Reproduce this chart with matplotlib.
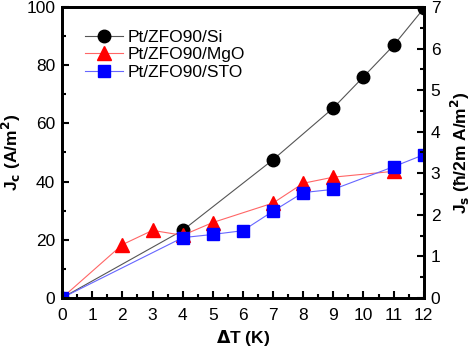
import matplotlib.pyplot as plt
import numpy as np
from matplotlib.ticker import MultipleLocator

plt.rcParams['font.family'] = ['Liberation Sans', 'DejaVu Sans']

# data
x_si = [0, 4, 7, 9, 10, 11, 12]
y_si = [0, 23.2, 47.5, 65.3, 76.0, 86.8, 99.5]

x_mgo = [0, 2, 3, 4, 5, 7, 8, 9, 11]
y_mgo = [0, 18.3, 23.2, 21.5, 25.9, 32.6, 39.4, 41.5, 43.5]

x_sto = [0, 4, 5, 6, 7, 8, 9, 11, 12]
y_sto = [0, 20.7, 21.8, 23.1, 29.8, 36.2, 37.3, 45.1, 49.2]

fig = plt.figure(figsize=(4.74, 3.5), dpi=100)
ax = fig.add_axes([0.131, 0.149, 0.763, 0.831])

ax.plot(x_si, y_si, color='#555555', lw=0.8, marker='o', ms=9,
        mfc='black', mec='black', label='Pt/ZFO90/Si')
ax.plot(x_mgo, y_mgo, color='#ff6666', lw=0.8, marker='^', ms=10,
        mfc='red', mec='red', label='Pt/ZFO90/MgO')
ax.plot(x_sto, y_sto, color='#6666ff', lw=0.8, marker='s', ms=8,
        mfc='blue', mec='blue', label='Pt/ZFO90/STO')

ax.set_xlim(0, 12)
ax.set_ylim(0, 100)
ax.xaxis.set_major_locator(MultipleLocator(1))
ax.xaxis.set_minor_locator(MultipleLocator(0.5))
ax.yaxis.set_major_locator(MultipleLocator(20))
ax.yaxis.set_minor_locator(MultipleLocator(10))
ax.tick_params(which='both', direction='in', width=1.5, labelsize=12.5, top=False, right=False)
ax.tick_params(which='major', length=5)
ax.tick_params(which='minor', length=3)
ax.tick_params(axis='x', pad=7)
ax.tick_params(axis='y', pad=5)
for s in ax.spines.values():
    s.set_linewidth(2)

ax2 = ax.twinx()
ax2.set_ylim(0, 7)
ax2.yaxis.set_major_locator(MultipleLocator(1))
ax2.yaxis.set_minor_locator(MultipleLocator(0.5))
ax2.tick_params(which='both', direction='in', width=1.5, labelsize=12.5, pad=5)
ax2.tick_params(which='major', length=5)
ax2.tick_params(which='minor', length=3)
for s in ax2.spines.values():
    s.set_linewidth(2)

ax.set_xlabel(r'$\mathbf{\Delta}$T (K)', fontsize=12.5, fontweight='bold', labelpad=4)
ax.set_ylabel(r'J$_\mathbf{c}$ (A/m$^\mathbf{2}$)', fontsize=12.5, fontweight='bold', labelpad=2)
ax2.set_ylabel(r'J$_\mathbf{s}$ (ħ/2m A/m$^\mathbf{2}$)', fontsize=12.5, fontweight='bold', labelpad=6)

ax.legend(loc='upper left', frameon=False, fontsize=12.5, handlelength=2.2,
          handletextpad=0.3, labelspacing=0.15, borderaxespad=0.9)

plt.savefig('out.png', dpi=100)
